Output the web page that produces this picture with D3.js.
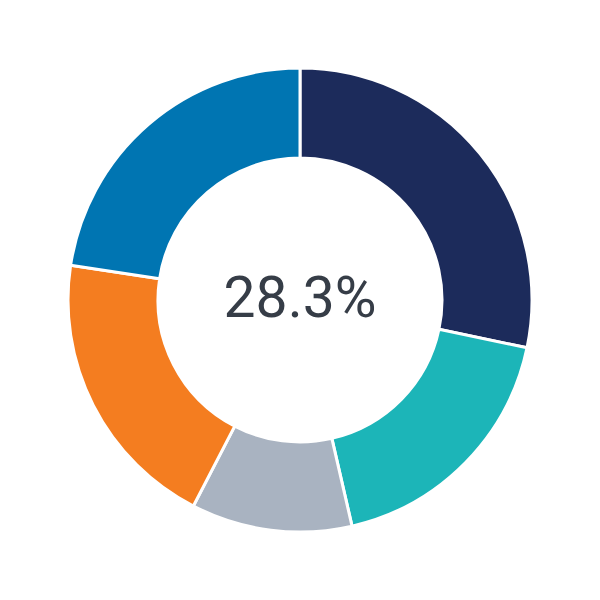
<!DOCTYPE html>
<html>
<head>
<meta charset="utf-8">
<script src="https://cdn.jsdelivr.net/npm/d3@7"></script>
<style>
  html, body { margin: 0; padding: 0; background: #fff; }
  #chart { width: 600px; height: 600px; }
</style>
</head>
<body>
<div id="chart"></div>
<script>
// slice values (percent), clockwise from 12 o'clock
const categories = ["A", "B", "C", "D", "E"];
const values = [28.3, 18.1, 11.2, 19.8, 22.6];
const colors = ["#1c2b5b", "#1cb5b8", "#a9b3c1", "#f47d20", "#0075b2"];
const centerLabel = "28.3%";

const width = 600, height = 600;
const outerR = 232, innerR = 142;

const svg = d3.select("#chart").append("svg")
    .attr("width", width)
    .attr("height", height);

const g = svg.append("g")
    .attr("transform", `translate(${width / 2},${height / 2})`);

const color = d3.scaleOrdinal().domain(categories).range(colors);

const pie = d3.pie()
    .sort(null)
    .value(d => d.value);

const arc = d3.arc()
    .innerRadius(innerR)
    .outerRadius(outerR);

const data = categories.map((c, i) => ({ name: c, value: values[i] }));

g.selectAll("path")
    .data(pie(data))
    .enter().append("path")
    .attr("d", arc)
    .attr("fill", d => color(d.data.name))
    .attr("stroke", "#fff")
    .attr("stroke-width", 3);

g.append("text")
    .attr("text-anchor", "middle")
    .attr("y", 17)
    .style("font-family", "Roboto, 'Liberation Sans', sans-serif")
    .style("font-size", "57px")
    .style("fill", "#363d47")
    .text(centerLabel);
</script>
</body>
</html>
